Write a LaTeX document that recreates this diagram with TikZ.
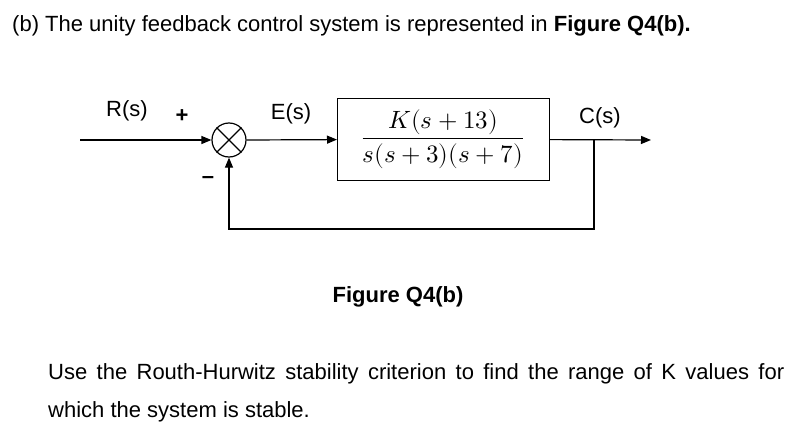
\documentclass[tikz,border=0pt]{standalone}
\usepackage{fontspec}
\setmainfont{Liberation Sans}
\usepackage{unicode-math}
\setmathfont{Latin Modern Math}
\usetikzlibrary{arrows.meta}
\begin{document}
\begin{tikzpicture}[x=1pt,y=-1pt,
  txt/.style={inner sep=0pt,font=\fontsize{22}{26}\selectfont},
  ln/.style={line width=1.2pt},
  arr/.style={ln,-{Triangle[length=10pt,width=8pt]}}]
\useasboundingbox (0,0) rectangle (804,442);
\node[txt,anchor=base west] (t1) at (12,31) {(b) The unity feedback control system is represented in \textbf{Figure Q4(b).}};
\node[txt] (r) at (127,111) {R(s)};
\node[txt] (plus) at (182,116) {\textbf{+}};
\node[txt] (minus) at (208,180) {\textbf{–}};
\node[txt] (e) at (291,114) {E(s)};
\node[txt] (c) at (600,118) {C(s)};
\node[draw,circle,minimum size=34pt,inner sep=0pt,ln] (sum) at (229,140) {};
\draw[ln] (sum.north west) -- (sum.south east) (sum.north east) -- (sum.south west);
\node[draw,ln,minimum width=212pt,minimum height=82pt,anchor=north west,inner sep=0pt] (g) at (337,98) {};
\node[inner sep=0pt,font=\fontsize{25}{29}\selectfont] (frac) at (443,139) {$\dfrac{K(s+13)}{s(s+3)(s+7)}$};
\coordinate (in) at (80,140);
\coordinate (out) at (651,140);
\coordinate (tap) at (594,140);
\coordinate (fb1) at (594,229);
\coordinate (fb2) at (229,229);
\draw[arr] (in) -- (sum.west);
\draw[arr] (sum.east) -- (g.west);
\draw[arr] (g.east) -- (out);
\draw[arr] (tap) -- (fb1) -- (fb2) -- (sum.south);
\node[txt,font=\fontsize{22}{26}\selectfont\bfseries] (fig) at (398,297) {Figure Q4(b)};
\node[txt,anchor=base west] (p1) at (48,379) {\hbox to 736pt{Use\hfill the\hfill Routh-Hurwitz\hfill stability\hfill criterion\hfill to\hfill find\hfill the\hfill range\hfill of\hfill K\hfill values\hfill for}};
\node[txt,anchor=base west] (p2) at (48,417) {which the system is stable.};
\end{tikzpicture}
\end{document}
